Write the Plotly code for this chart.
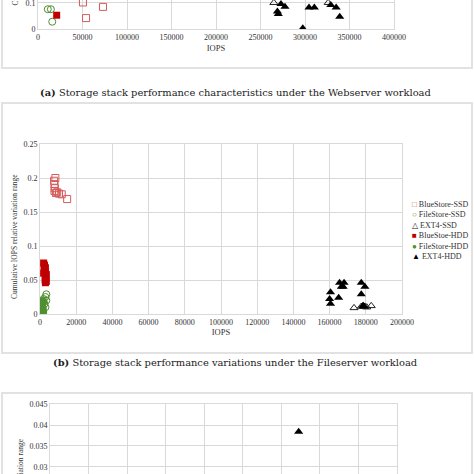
import plotly.graph_objects as go

# series names / legend order
series_names = ['BlueStore-SSD', 'FileStore-SSD', 'EXT4-SSD', 'BlueStoe-HDD', 'FileStore-HDD', 'EXT4-HDD']

# (a) Webserver workload (only the bottom of the chart is in view)
web_bs_ssd_x = [50500, 54000, 73000]
web_bs_ssd_y = [0.102, 0.042, 0.085]
web_fs_ssd_x = [11000, 14500, 16000]
web_fs_ssd_y = [0.076, 0.076, 0.028]
web_ext4_ssd_x = [265000, 326000]
web_ext4_ssd_y = [0.101, 0.101]
web_bs_hdd_x = [21000]
web_bs_hdd_y = [0.053]
web_ext4_hdd_x = [273000, 277500, 269000, 270000, 297500, 304500, 310500, 329000, 335000, 339000]
web_ext4_hdd_y = [0.096, 0.086, 0.067, 0.058, 0.003, 0.083, 0.083, 0.092, 0.083, 0.047]

# (b) Fileserver workload
file_bs_ssd_x = [8500, 7800, 8000, 8200, 8000, 8800, 9500, 10500, 12000, 15000]
file_bs_ssd_y = [0.200, 0.196, 0.191, 0.185, 0.181, 0.178, 0.179, 0.177, 0.176, 0.169]
file_fs_ssd_x = [3500, 3000, 3500, 2500, 3000, 1500, 1500, 2000]
file_fs_ssd_y = [0.029, 0.025, 0.020, 0.015, 0.010, 0.005, 0.001, 0.022]
file_ext4_ssd_x = [173500, 177500, 178500, 179500, 180500, 183000]
file_ext4_ssd_y = [0.009, 0.011, 0.012, 0.011, 0.010, 0.012]
file_bs_hdd_x = [2000, 2500, 2200, 3000, 2500, 2800, 3000, 3500, 3000, 3200, 2800, 3500, 3000, 2000]
file_bs_hdd_y = [0.075, 0.072, 0.070, 0.068, 0.065, 0.062, 0.060, 0.058, 0.055, 0.052, 0.050, 0.048, 0.046, 0.060]
file_fs_hdd_x = [1500, 2000, 1200, 1500, 1800, 1000, 2000, 1500]
file_fs_hdd_y = [0.020, 0.018, 0.015, 0.012, 0.008, 0.005, 0.003, 0.001]
file_ext4_hdd_x = [160500, 160000, 160500, 165000, 165500, 166500, 168000, 167500, 177500, 179500, 177500, 178500, 179000]
file_ext4_hdd_y = [0.032, 0.022, 0.015, 0.024, 0.046, 0.040, 0.046, 0.040, 0.046, 0.040, 0.029, 0.012, 0.011]

# (c) third workload (only the top of the chart is in view)
third_ext4_hdd_x = [129000]
third_ext4_hdd_y = [0.0384]

captions = [
	'<b>(a)</b> Storage stack performance characteristics under the Webserver workload',
	'<b>(b)</b> Storage stack performance variations under the Fileserver workload',
]
y_title = 'Cumulative IOPS relative variation range'

styles = {
	'BlueStore-SSD': dict(symbol='square-open', color='#d45a5a', size=7, line=dict(width=1)),
	'FileStore-SSD': dict(symbol='circle-open', color='#4f8f2f', size=7, line=dict(width=1)),
	'EXT4-SSD': dict(symbol='triangle-up-open', color='#222222', size=7, line=dict(width=1)),
	'BlueStoe-HDD': dict(symbol='square', color='#c00000', size=7),
	'FileStore-HDD': dict(symbol='circle', color='#4f8f2f', size=7),
	'EXT4-HDD': dict(symbol='triangle-up', color='#000000', size=8),
}
legend_glyph = {
	'BlueStore-SSD': '□', 'FileStore-SSD': '○', 'EXT4-SSD': '△',
	'BlueStoe-HDD': '■', 'FileStore-HDD': '●', 'EXT4-HDD': '▲',
}

panels = [
	('x', 'y', [
		('BlueStore-SSD', web_bs_ssd_x, web_bs_ssd_y),
		('FileStore-SSD', web_fs_ssd_x, web_fs_ssd_y),
		('EXT4-SSD', web_ext4_ssd_x, web_ext4_ssd_y),
		('BlueStoe-HDD', web_bs_hdd_x, web_bs_hdd_y),
		('EXT4-HDD', web_ext4_hdd_x, web_ext4_hdd_y),
	]),
	('x2', 'y2', [
		('BlueStore-SSD', file_bs_ssd_x, file_bs_ssd_y),
		('FileStore-SSD', file_fs_ssd_x, file_fs_ssd_y),
		('EXT4-SSD', file_ext4_ssd_x, file_ext4_ssd_y),
		('BlueStoe-HDD', file_bs_hdd_x, file_bs_hdd_y),
		('FileStore-HDD', file_fs_hdd_x, file_fs_hdd_y),
		('EXT4-HDD', file_ext4_hdd_x, file_ext4_hdd_y),
	]),
	('x3', 'y3', [
		('EXT4-HDD', third_ext4_hdd_x, third_ext4_hdd_y),
	]),
]

fig = go.Figure()
for xa, ya, traces in panels:
	for name, xs, ys in traces:
		fig.add_trace(go.Scatter(
			x=xs, y=ys, mode='markers', name=name,
			marker=styles[name], xaxis=xa, yaxis=ya,
			showlegend=False, cliponaxis=True,
		))

H = 474.0
def py(px):
	return 1 - px / H

serif = 'Liberation Serif'
axis_common = dict(
	showgrid=True, gridcolor='#d9d9d9', gridwidth=1,
	showline=True, linecolor='#d9d9d9', mirror=True,
	zeroline=False, ticks='', automargin=False, ticklabeloverflow='allow',
	tickfont=dict(family=serif, size=8, color='#333333'),
)

fig.update_layout(
	width=474, height=474,
	margin=dict(l=0, r=0, t=0, b=0),
	paper_bgcolor='white', plot_bgcolor='white',
	showlegend=False,
	xaxis=dict(axis_common, domain=[38 / H, 394 / H], range=[0, 400000], dtick=50000, tickformat='d', anchor='y',
		title=dict(text='IOPS', font=dict(family=serif, size=8.5, color='#333333'), standoff=4)),
	yaxis=dict(axis_common, domain=[py(29), 1], range=[0, 0.1115], dtick=0.1, anchor='x'),
	xaxis2=dict(axis_common, domain=[40 / H, 402 / H], range=[0, 200000], dtick=20000, tickformat='d', anchor='y2',
		title=dict(text='IOPS', font=dict(family=serif, size=8.5, color='#333333'), standoff=2)),
	yaxis2=dict(axis_common, domain=[py(314), py(144)], range=[0, 0.25], dtick=0.05, anchor='x2'),
	# x labels of the third chart fall below the page edge
	xaxis3=dict(axis_common, domain=[50 / H, 397 / H], range=[0, 180000], dtick=20000, showticklabels=False, anchor='y3'),
	yaxis3=dict(axis_common, domain=[0, py(404)], range=[0.02833, 0.045], dtick=0.005, anchor='x3'),
)

# light panel frames of the page
frame = dict(type='rect', xref='paper', yref='paper', line=dict(color='#e2e2e2', width=2), layer='below')
fig.add_shape(frame, x0=2 / H, x1=472 / H, y0=py(68), y1=1.05)
fig.add_shape(frame, x0=2 / H, x1=472 / H, y0=py(353), y1=py(103))
fig.add_shape(frame, x0=2 / H, x1=472 / H, y0=-0.05, y1=py(393))

# captions
for text, ypx in zip(captions, [85, 370]):
	fig.add_annotation(text=text, xref='paper', yref='paper', x=235 / H, y=py(ypx),
		xanchor='center', showarrow=False, font=dict(family='DejaVu Serif', size=9.9, color='#222222'))

# rotated y titles (panel a and c cut by the page edge)
title_font = dict(family=serif, size=7.5, color='#333333')
fig.add_annotation(text=y_title, textangle=-90, xref='paper', yref='paper', x=14 / H, y=py(237),
	xanchor='center', showarrow=False, font=title_font)
fig.add_annotation(text=y_title, textangle=-90, xref='paper', yref='paper', x=15 / H, y=py(8),
	xanchor='center', yanchor='bottom', showarrow=False, font=title_font)
fig.add_annotation(text=y_title, textangle=-90, xref='paper', yref='paper', x=20 / H, y=py(437),
	xanchor='center', yanchor='top', showarrow=False, font=title_font)

# legend of panel (b)
legend_lines = []
for name in series_names:
	legend_lines.append('<span style="color:%s;font-size:8px">%s</span> %s' % (styles[name]['color'], legend_glyph[name], name))
fig.add_annotation(text='<br>'.join(legend_lines), xref='paper', yref='paper', x=410 / H, y=py(198),
	xanchor='left', yanchor='top', align='left', showarrow=False,
	font=dict(family=serif, size=8, color='#333333'))

# page body has a default margin; drop it so the figure fills the window
fig.write_html('out.html', config={'displayModeBar': False},
	post_script="document.body.style.margin='0';document.body.style.overflow='hidden';")
